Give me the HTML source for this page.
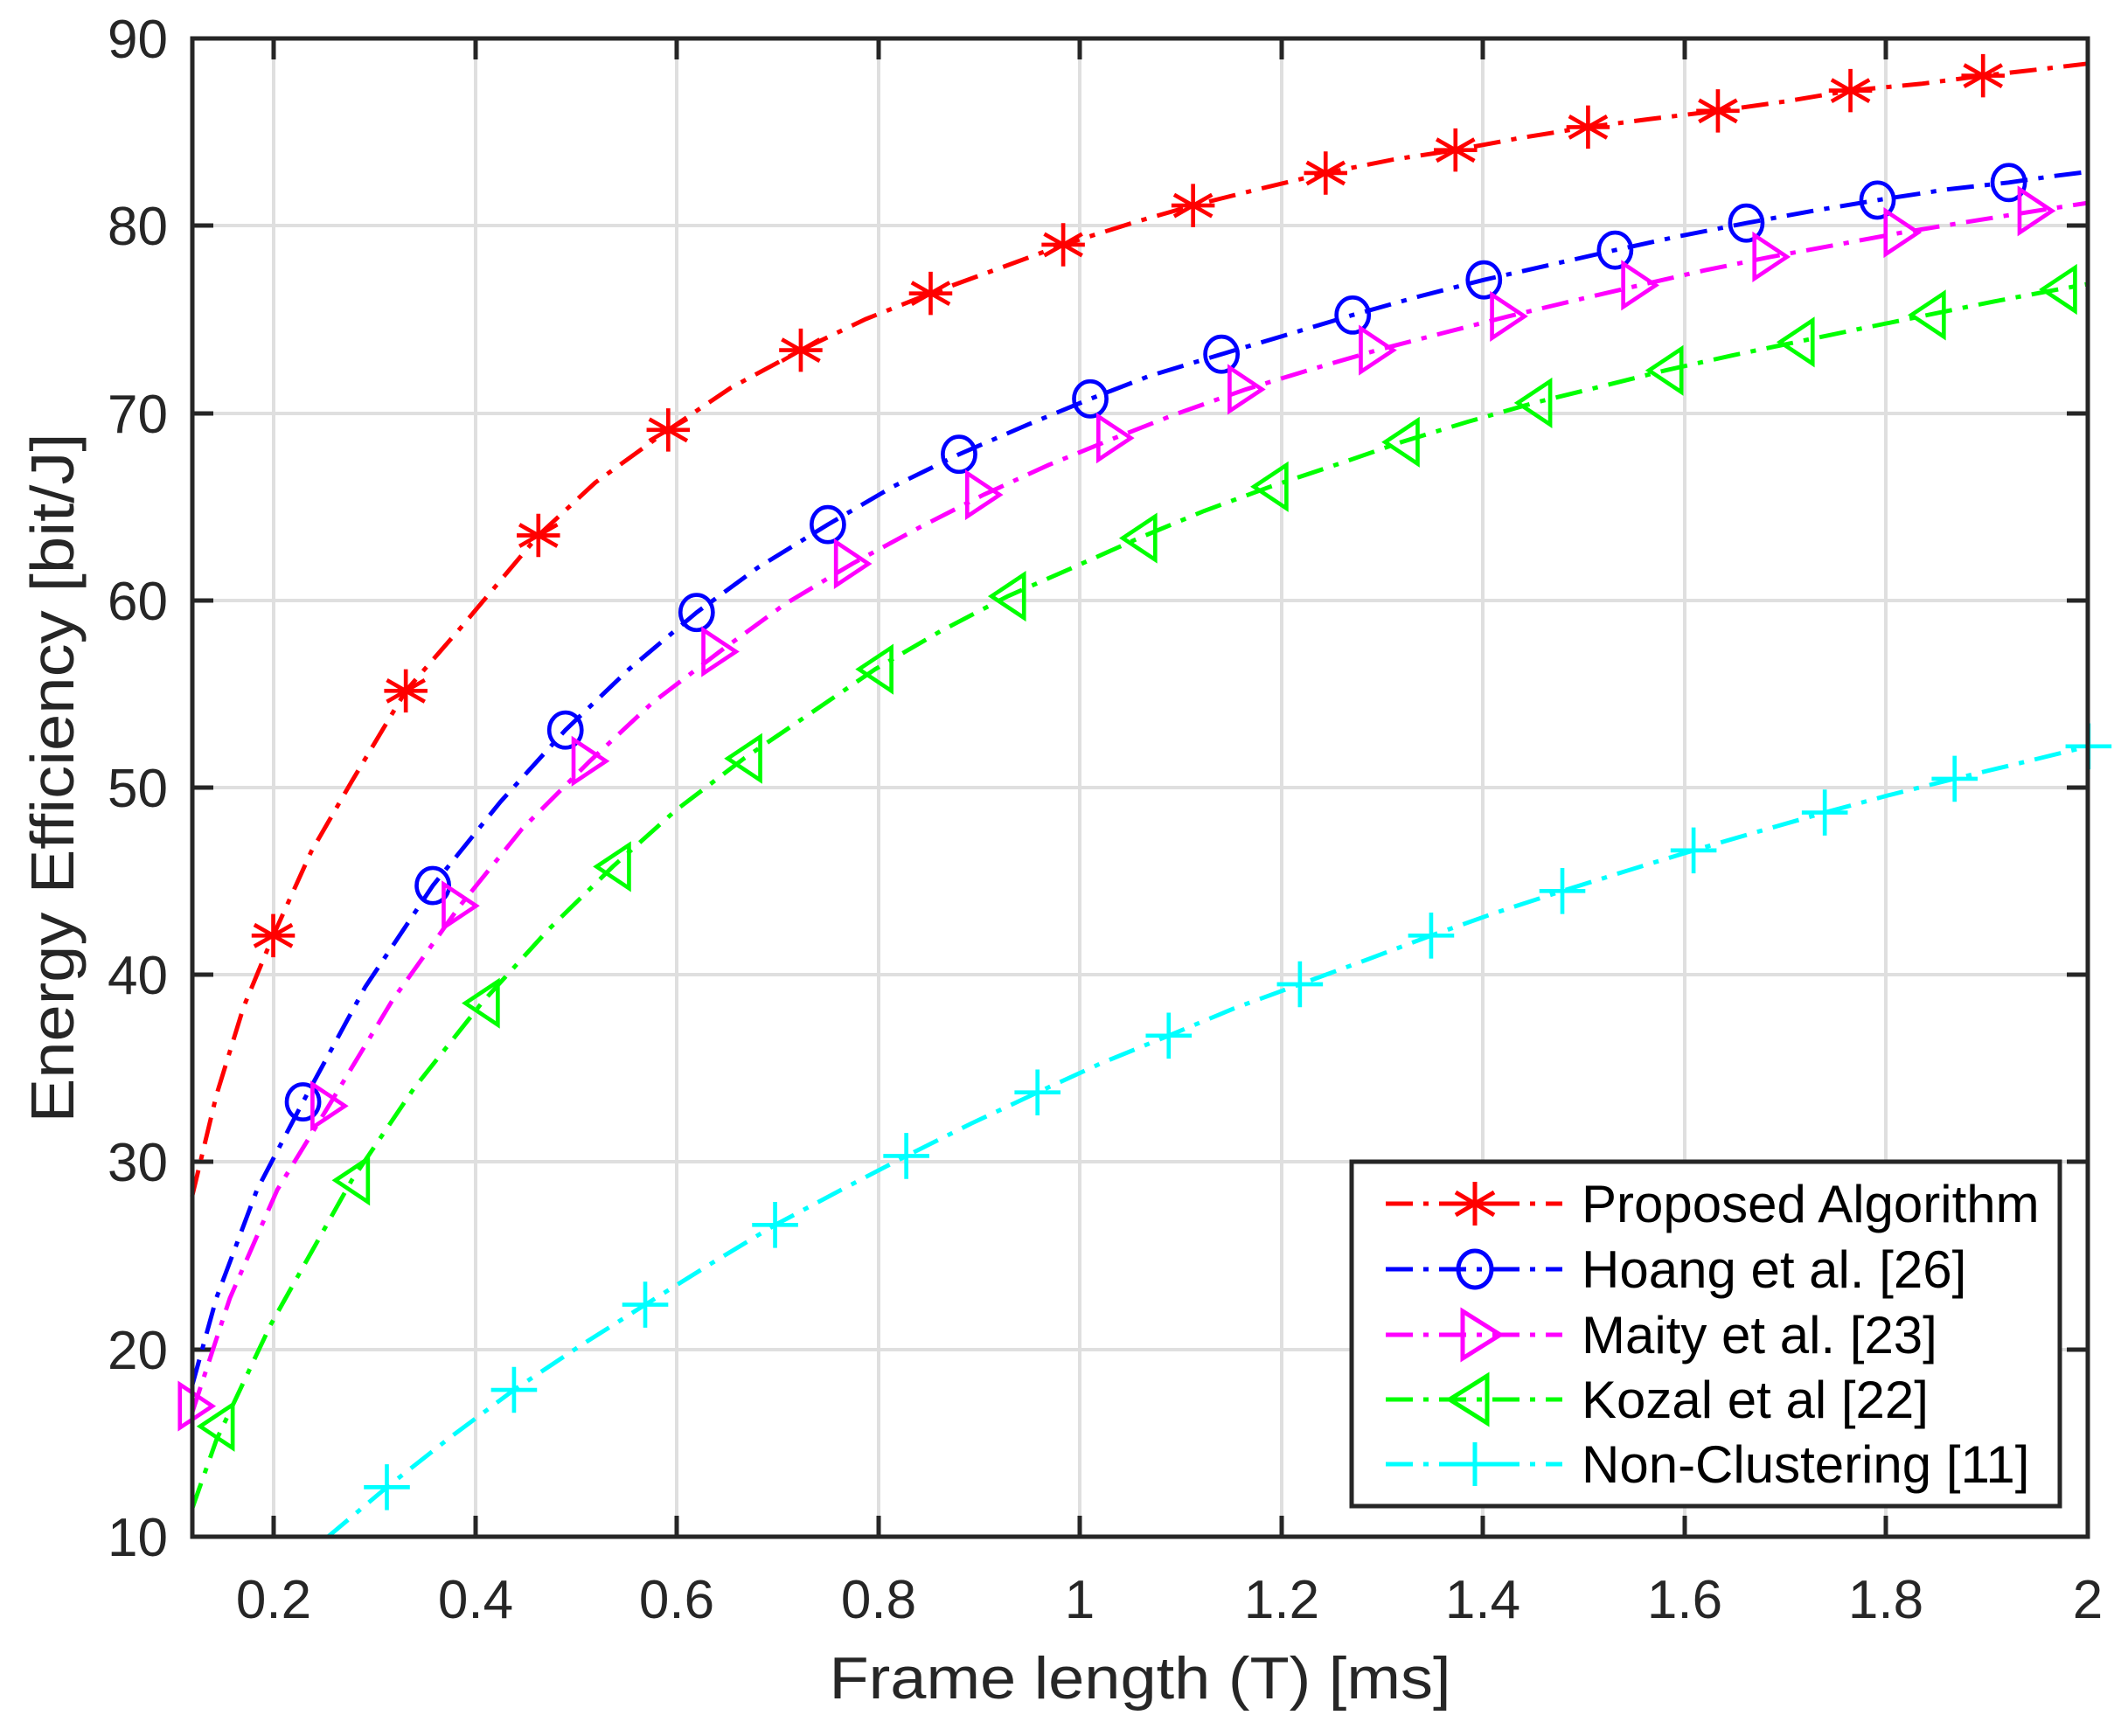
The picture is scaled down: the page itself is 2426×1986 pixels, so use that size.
<!DOCTYPE html>
<html><head><meta charset="utf-8"><style>html,body{margin:0;padding:0;background:#fff}svg{display:block}</style></head>
<body>
<svg xmlns="http://www.w3.org/2000/svg" width="2426" height="1986" viewBox="0 0 2426 1986">
<rect width="2426" height="1986" fill="#fff"/>
<g stroke="#dfdfdf" stroke-width="4">
<line x1="313" y1="44" x2="313" y2="1758"/><line x1="544" y1="44" x2="544" y2="1758"/><line x1="774" y1="44" x2="774" y2="1758"/><line x1="1005" y1="44" x2="1005" y2="1758"/><line x1="1235" y1="44" x2="1235" y2="1758"/><line x1="1466" y1="44" x2="1466" y2="1758"/><line x1="1696" y1="44" x2="1696" y2="1758"/><line x1="1927" y1="44" x2="1927" y2="1758"/><line x1="2157" y1="44" x2="2157" y2="1758"/>
<line x1="220" y1="258" x2="2388" y2="258"/><line x1="220" y1="473" x2="2388" y2="473"/><line x1="220" y1="687" x2="2388" y2="687"/><line x1="220" y1="901" x2="2388" y2="901"/><line x1="220" y1="1115" x2="2388" y2="1115"/><line x1="220" y1="1329" x2="2388" y2="1329"/><line x1="220" y1="1544" x2="2388" y2="1544"/>
</g>
<g stroke="#262626" stroke-width="5">
<line x1="313" y1="44" x2="313" y2="68"/><line x1="544" y1="44" x2="544" y2="68"/><line x1="774" y1="44" x2="774" y2="68"/><line x1="1005" y1="44" x2="1005" y2="68"/><line x1="1235" y1="44" x2="1235" y2="68"/><line x1="1466" y1="44" x2="1466" y2="68"/><line x1="1696" y1="44" x2="1696" y2="68"/><line x1="1927" y1="44" x2="1927" y2="68"/><line x1="2157" y1="44" x2="2157" y2="68"/>
<line x1="313" y1="1758" x2="313" y2="1734"/><line x1="544" y1="1758" x2="544" y2="1734"/><line x1="774" y1="1758" x2="774" y2="1734"/><line x1="1005" y1="1758" x2="1005" y2="1734"/><line x1="1235" y1="1758" x2="1235" y2="1734"/><line x1="1466" y1="1758" x2="1466" y2="1734"/><line x1="1696" y1="1758" x2="1696" y2="1734"/><line x1="1927" y1="1758" x2="1927" y2="1734"/><line x1="2157" y1="1758" x2="2157" y2="1734"/>
<line x1="220" y1="258" x2="244" y2="258"/><line x1="220" y1="473" x2="244" y2="473"/><line x1="220" y1="687" x2="244" y2="687"/><line x1="220" y1="901" x2="244" y2="901"/><line x1="220" y1="1115" x2="244" y2="1115"/><line x1="220" y1="1329" x2="244" y2="1329"/><line x1="220" y1="1544" x2="244" y2="1544"/>
<line x1="2388" y1="258" x2="2364" y2="258"/><line x1="2388" y1="473" x2="2364" y2="473"/><line x1="2388" y1="687" x2="2364" y2="687"/><line x1="2388" y1="901" x2="2364" y2="901"/><line x1="2388" y1="1115" x2="2364" y2="1115"/><line x1="2388" y1="1329" x2="2364" y2="1329"/><line x1="2388" y1="1544" x2="2364" y2="1544"/>
</g>
<g transform="scale(1.5472,1.5467)" fill="none" stroke-width="3.2" stroke-dasharray="20 8 4 8">
<polyline stroke="#ff0000" points="142,885 160,810 180,745 202,692 230,630 260,578 300,511 340,465 398,396 440,357 494,318 540,287 592,259 640,236 688,217 740,198 786,181 840,164 882,152 930,140 980,128 1030,118 1076,111 1124,102 1174,94 1220,88 1270,82 1320,75 1368,67 1420,62 1466,56 1510,51 1544,47"/>
<polyline stroke="#0000ff" points="142,1025 160,960 190,880 224,815 270,730 320,655 370,593 418,540 465,495 515,453 560,420 612,388 660,360 709,336 760,314 806,295 850,278 903,262 950,248 1000,233 1050,219 1097,207 1150,195 1194,185 1240,175 1291,165 1340,156 1388,148 1440,140 1485,135 1520,130 1544,127"/>
<polyline stroke="#ff00ff" points="142,1045 170,960 205,880 243,818 290,740 340,670 386,613 436,563 482,520 532,482 580,447 630,417 680,390 727,366 775,344 824,324 870,306 921,288 970,273 1018,259 1068,246 1115,234 1165,222 1212,211 1260,200 1309,190 1358,181 1406,172 1455,164 1505,156 1544,150"/>
<polyline stroke="#00ff00" points="142,1116 160,1065 200,980 260,873 306,805 356,742 405,688 453,641 500,599 550,561 600,527 647,495 695,467 745,441 795,419 842,398 890,378 939,360 990,343 1036,327 1085,312 1134,298 1183,286 1231,274 1280,263 1328,253 1376,243 1425,233 1474,223 1522,214 1544,210"/>
<polyline stroke="#00ffff" points="242,1137 286,1100 333,1063 380,1028 428,996 477,965 525,935 573,906 622,880 670,855 718,831 767,808 815,786 864,766 912,746 961,728 1010,710 1058,692 1106,675 1155,659 1203,644 1252,629 1300,615 1349,601 1397,588 1445,576 1495,564 1544,552"/>
</g>
<g transform="scale(1.5472,1.5467)" fill="none" stroke-width="3">
<g stroke="#ff0000">
<path d="M202,676V708M188,684L216,700M188,700L216,684M186,692H218"/>
<path d="M300,495V527M286,503L314,519M286,519L314,503M284,511H316"/>
<path d="M398,380V412M384,388L412,404M384,404L412,388M382,396H414"/>
<path d="M494,302V334M480,310L508,326M480,326L508,310M478,318H510"/>
<path d="M592,243V275M578,251L606,267M578,267L606,251M576,259H608"/>
<path d="M688,201V233M674,209L702,225M674,225L702,209M672,217H704"/>
<path d="M786,165V197M772,173L800,189M772,189L800,173M770,181H802"/>
<path d="M882,136V168M868,144L896,160M868,160L896,144M866,152H898"/>
<path d="M980,112V144M966,120L994,136M966,136L994,120M964,128H996"/>
<path d="M1076,95V127M1062,103L1090,119M1062,119L1090,103M1060,111H1092"/>
<path d="M1174,78V110M1160,86L1188,102M1160,102L1188,86M1158,94H1190"/>
<path d="M1270,66V98M1256,74L1284,90M1256,90L1284,74M1254,82H1286"/>
<path d="M1368,51V83M1354,59L1382,75M1354,75L1382,59M1352,67H1384"/>
<path d="M1466,40V72M1452,48L1480,64M1452,64L1480,48M1450,56H1482"/>
</g>
<g stroke="#0000ff">
<ellipse cx="224" cy="815" rx="12" ry="13"/><ellipse cx="320" cy="655" rx="12" ry="13"/><ellipse cx="418" cy="540" rx="12" ry="13"/><ellipse cx="515" cy="453" rx="12" ry="13"/><ellipse cx="612" cy="388" rx="12" ry="13"/><ellipse cx="709" cy="336" rx="12" ry="13"/><ellipse cx="806" cy="295" rx="12" ry="13"/><ellipse cx="903" cy="262" rx="12" ry="13"/><ellipse cx="1000" cy="233" rx="12" ry="13"/><ellipse cx="1097" cy="207" rx="12" ry="13"/><ellipse cx="1194" cy="185" rx="12" ry="13"/><ellipse cx="1291" cy="165" rx="12" ry="13"/><ellipse cx="1388" cy="148" rx="12" ry="13"/><ellipse cx="1485" cy="135" rx="12" ry="13"/>
</g>
<g stroke="#ff00ff">
<path d="M133,1024L157,1040L133,1056Z"/><path d="M231,802L255,818L231,834Z"/><path d="M328,654L352,670L328,686Z"/><path d="M424,547L448,563L424,579Z"/><path d="M520,466L544,482L520,498Z"/><path d="M618,401L642,417L618,433Z"/><path d="M715,350L739,366L715,382Z"/><path d="M812,308L836,324L812,340Z"/><path d="M909,272L933,288L909,304Z"/><path d="M1006,243L1030,259L1006,275Z"/><path d="M1103,218L1127,234L1103,250Z"/><path d="M1200,195L1224,211L1200,227Z"/><path d="M1297,174L1321,190L1297,206Z"/><path d="M1394,156L1418,172L1394,188Z"/><path d="M1493,140L1517,156L1493,172Z"/>
</g>
<g stroke="#00ff00">
<path d="M172,1039L148,1055L172,1071Z"/><path d="M272,857L248,873L272,889Z"/><path d="M368,726L344,742L368,758Z"/><path d="M465,625L441,641L465,657Z"/><path d="M562,545L538,561L562,577Z"/><path d="M659,479L635,495L659,511Z"/><path d="M757,425L733,441L757,457Z"/><path d="M854,382L830,398L854,414Z"/><path d="M951,344L927,360L951,376Z"/><path d="M1048,311L1024,327L1048,343Z"/><path d="M1146,282L1122,298L1146,314Z"/><path d="M1243,258L1219,274L1243,290Z"/><path d="M1340,237L1316,253L1340,269Z"/><path d="M1437,217L1413,233L1437,249Z"/><path d="M1534,198L1510,214L1534,230Z"/>
</g>
<g stroke="#00ffff">
<path d="M286,1083V1117M269,1100H303"/><path d="M380,1011V1045M363,1028H397"/><path d="M477,948V982M460,965H494"/><path d="M573,889V923M556,906H590"/><path d="M670,838V872M653,855H687"/><path d="M767,791V825M750,808H784"/><path d="M864,749V783M847,766H881"/><path d="M961,711V745M944,728H978"/><path d="M1058,675V709M1041,692H1075"/><path d="M1155,642V676M1138,659H1172"/><path d="M1252,612V646M1235,629H1269"/><path d="M1349,584V618M1332,601H1366"/><path d="M1445,559V593M1428,576H1462"/><path d="M1544,535V569M1527,552H1561"/>
</g>
</g>
<rect x="220" y="44" width="2168" height="1714" fill="none" stroke="#262626" stroke-width="5"/>
<g font-family="Liberation Sans, sans-serif" font-size="62" fill="#262626" text-anchor="end">
<text x="192" y="66">90</text><text x="192" y="280">80</text><text x="192" y="495">70</text><text x="192" y="709">60</text><text x="192" y="923">50</text><text x="192" y="1137">40</text><text x="192" y="1351">30</text><text x="192" y="1566">20</text><text x="192" y="1780">10</text>
</g>
<g font-family="Liberation Sans, sans-serif" font-size="62" fill="#262626" text-anchor="middle">
<text x="313" y="1851">0.2</text><text x="544" y="1851">0.4</text><text x="774" y="1851">0.6</text><text x="1005" y="1851">0.8</text><text x="1235" y="1851">1</text><text x="1466" y="1851">1.2</text><text x="1696" y="1851">1.4</text><text x="1927" y="1851">1.6</text><text x="2157" y="1851">1.8</text><text x="2388" y="1851">2</text>
</g>
<text x="1304" y="1943" font-family="Liberation Sans, sans-serif" font-size="68" fill="#262626" text-anchor="middle" textLength="711" lengthAdjust="spacingAndGlyphs">Frame length (T) [ms]</text>
<text transform="translate(84,890) rotate(-90)" font-family="Liberation Sans, sans-serif" font-size="70" fill="#262626" text-anchor="middle" textLength="789" lengthAdjust="spacingAndGlyphs">Energy Efficiency [bit/J]</text>
<rect x="1546" y="1329" width="810" height="394" fill="#fff" stroke="#262626" stroke-width="5"/>
<g stroke-width="5" fill="none" stroke-dasharray="31 12 6 12">
<line x1="1585" y1="1377" x2="1787" y2="1377" stroke="#ff0000"/>
<line x1="1585" y1="1452" x2="1787" y2="1452" stroke="#0000ff"/>
<line x1="1585" y1="1527" x2="1787" y2="1527" stroke="#ff00ff"/>
<line x1="1585" y1="1601" x2="1787" y2="1601" stroke="#00ff00"/>
<line x1="1585" y1="1675" x2="1787" y2="1675" stroke="#00ffff"/>
</g>
<g stroke-width="5" fill="none">
<path stroke="#ff0000" d="M1687,1352V1402M1665,1364L1709,1390M1665,1390L1709,1364M1662,1377H1712"/>
<ellipse stroke="#0000ff" cx="1687" cy="1452" rx="19" ry="21"/>
<path stroke="#ff00ff" d="M1673,1500L1716,1527L1673,1554Z"/>
<path stroke="#00ff00" d="M1701,1574L1658,1601L1701,1628Z"/>
<path stroke="#00ffff" d="M1687,1650V1700M1662,1675H1712"/>
</g>
<g font-family="Liberation Sans, sans-serif" font-size="60" fill="#000">
<text x="1809" y="1398">Proposed Algorithm</text>
<text x="1809" y="1473">Hoang et al. [26]</text>
<text x="1809" y="1548">Maity et al. [23]</text>
<text x="1809" y="1622">Kozal et al [22]</text>
<text x="1809" y="1696">Non-Clustering [11]</text>
</g>
</svg>
</body></html>
